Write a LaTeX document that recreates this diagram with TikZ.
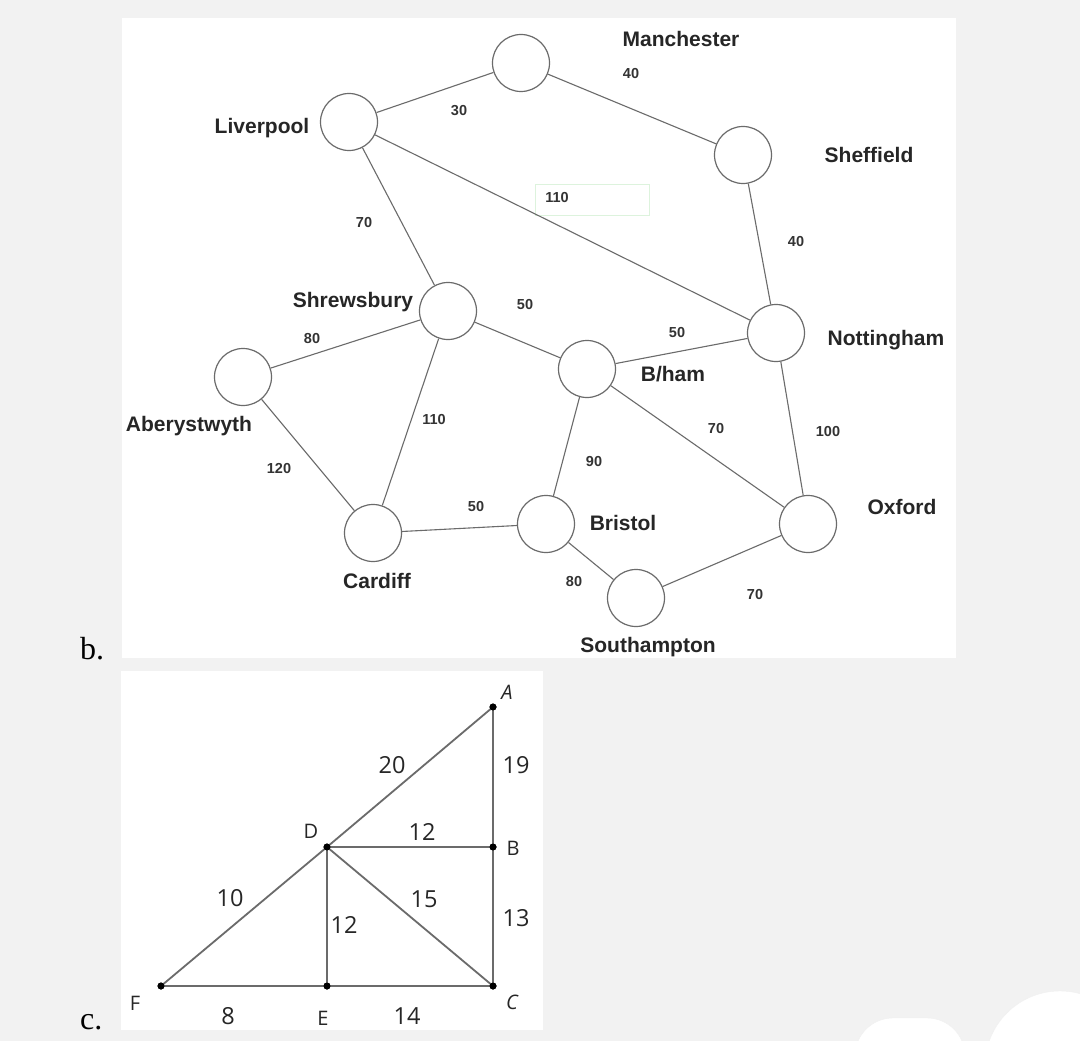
\documentclass[tikz,border=0pt]{standalone}
\usepackage{fontspec}
\setmainfont{Liberation Serif}
\newfontfamily\cityfont{Liberation Sans}
\newfontfamily\cfont{Open Sans}
\definecolor{bgcol}{HTML}{F2F2F2}
\definecolor{boxgreen}{HTML}{DDF3DD}
\begin{document}
\begin{tikzpicture}[x=1pt,y=-1pt,
  city/.style={circle,draw=black!58,line width=1.2pt,minimum size=57pt,inner sep=0pt,fill=white},
  cname/.style={font=\cityfont\bfseries\fontsize{21}{21}\selectfont,text=black!85,inner sep=0pt},
  wt/.style={font=\cityfont\bfseries\fontsize{14.5}{14.5}\selectfont,text=black!80,inner sep=0pt},
  road/.style={draw=black!58,line width=1.1pt},
  vdot/.style={circle,fill=black,inner sep=0pt,minimum size=7pt},
  edgec/.style={draw=black!58,line width=1.8pt},
  vname/.style={font=\cfont\fontsize{20}{20}\selectfont,text=black!85,inner sep=0pt},
  cwt/.style={font=\cfont\fontsize{23.5}{23.5}\selectfont,text=black!85,inner sep=0pt},
  tag/.style={font=\fontsize{32}{32}\selectfont,anchor=base west,inner sep=0pt}]
\useasboundingbox (0,0) rectangle (1080,1041);
\fill[bgcol] (0,0) rectangle (1080,1041);
% panels
\fill[white] (122,18) rectangle (956,658);
\fill[white] (121,671) rectangle (543,1030);
% decorative UI shapes bottom right
\begin{scope}
\clip (0,0) rectangle (1080,1041);
\fill[white,draw=black!6,rounded corners=38pt] (855,1018) rectangle (965,1100);
\fill[white,draw=black!6] (1060,1066) circle (75pt);
\end{scope}
% tags
\node[tag] (tagb) at (80,659) {b.};
\node[tag] (tagc) at (80,1029) {c.};
% ---- panel b ----
\node[draw=boxgreen,line width=0.8pt,minimum width=114pt,minimum height=31pt,inner sep=0pt] (box110) at (592,199.5) {};
\node[city] (man) at (521,63) {};
\node[city] (liv) at (349,122) {};
\node[city] (she) at (743,155) {};
\node[city] (shr) at (448,311) {};
\node[city] (not) at (776,333) {};
\node[city] (abe) at (243,377) {};
\node[city] (bha) at (587,369) {};
\node[city] (car) at (373,533) {};
\node[city] (bri) at (546,524) {};
\node[city] (oxf) at (808,524) {};
\node[city] (sou) at (636,598) {};
\draw[road] (liv) -- (man);
\draw[road] (man) -- (she);
\draw[road] (liv) -- (not);
\draw[road] (liv) -- (shr);
\draw[road] (she) -- (not);
\draw[road] (shr) -- (abe);
\draw[road] (shr) -- (bha);
\draw[road] (shr) -- (car);
\draw[road] (bha) -- (not);
\draw[road] (abe) -- (car);
\draw[road] (bha) -- (bri);
\draw[road] (bha) -- (oxf);
\draw[road] (not) -- (oxf);
\draw[road] (car) -- (bri);
\draw[road] (bri) -- (sou);
\draw[road] (sou) -- (oxf);
% city names
\node[cname] (lman) at (681,39) {Manchester};
\node[cname] (lliv) at (262,128) {Liverpool};
\node[cname] (lshe) at (869,155) {Sheffield};
\node[cname] (lshr) at (353,302) {Shrewsbury};
\node[cname] (lnot) at (886,340) {Nottingham};
\node[cname] (labe) at (189,426) {Aberystwyth};
\node[cname] (lbha) at (673,374) {B/ham};
\node[cname] (lcar) at (377,581) {Cardiff};
\node[cname] (lbri) at (623,523) {Bristol};
\node[cname] (loxf) at (902,507) {Oxford};
\node[cname] (lsou) at (648,647) {Southampton};
% weights
\node[wt] (w1) at (631,74) {40};
\node[wt] (w2) at (459,111) {30};
\node[wt] (w3) at (557,198) {110};
\node[wt] (w4) at (364,223) {70};
\node[wt] (w5) at (796,242) {40};
\node[wt] (w6) at (525,305) {50};
\node[wt] (w7) at (677,333) {50};
\node[wt] (w8) at (312,339) {80};
\node[wt] (w9) at (434,420) {110};
\node[wt] (w10) at (716,429) {70};
\node[wt] (w11) at (828,432) {100};
\node[wt] (w12) at (279,469) {120};
\node[wt] (w13) at (594,462) {90};
\node[wt] (w14) at (476,507) {50};
\node[wt] (w15) at (574,582) {80};
\node[wt] (w16) at (755,595) {70};
% ---- panel c ----
\node[vdot] (A) at (493,707) {};
\node[vdot] (B) at (493,847) {};
\node[vdot] (C) at (493,986) {};
\node[vdot] (D) at (327,847) {};
\node[vdot] (E) at (327,986) {};
\node[vdot] (F) at (161,986) {};
\draw[edgec] (D.center) -- (A.center);
\draw[edgec] (A.center) -- (B.center);
\draw[edgec] (B.center) -- (C.center);
\draw[edgec] (D.center) -- (B.center);
\draw[edgec] (D.center) -- (C.center);
\draw[edgec] (D.center) -- (E.center);
\draw[edgec] (F.center) -- (D.center);
\draw[edgec] (F.center) -- (E.center);
\draw[edgec] (E.center) -- (C.center);
\foreach \v in {A,B,C,D,E,F} \node[vdot] at (\v) {};
\node[vname] (lA) at (507,692) {\itshape A};
\node[vname] (lB) at (513,848) {B};
\node[vname] (lC) at (512,1002) {\itshape C};
\node[vname] (lD) at (311,831) {D};
\node[vname] (lE) at (323,1018) {E};
\node[vname] (lF) at (135,1003) {F};
\node[cwt] (c1) at (392,765) {20};
\node[cwt] (c2) at (516,765) {19};
\node[cwt] (c3) at (422,832) {12};
\node[cwt] (c4) at (230,898) {10};
\node[cwt] (c5) at (424,899) {15};
\node[cwt] (c6) at (344,925) {12};
\node[cwt] (c7) at (516,918) {13};
\node[cwt] (c8) at (228,1016) {8};
\node[cwt] (c9) at (407,1016) {14};
\end{tikzpicture}
\end{document}
